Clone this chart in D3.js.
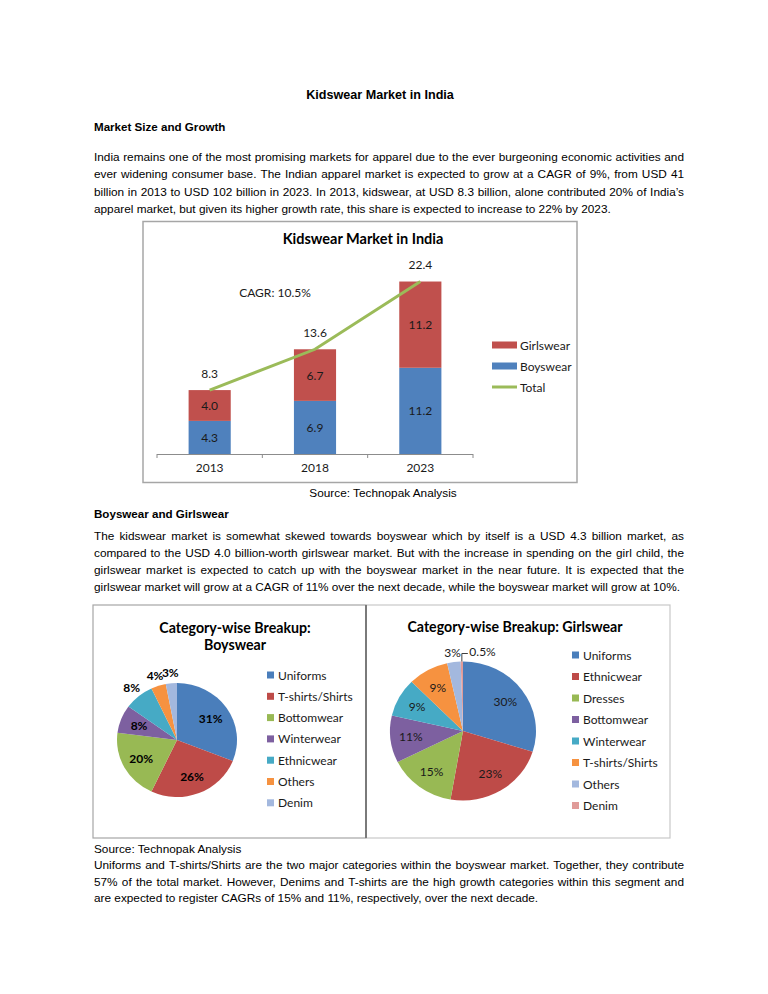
<!DOCTYPE html>
<html>
<head>
<meta charset="utf-8">
<script src="https://cdn.jsdelivr.net/npm/d3@7"></script>
<style>
  html, body { margin: 0; padding: 0; background: #fff; }
  svg { display: block; }
</style>
</head>
<body>
<script>
// ---------------- DATA ----------------
const years = ["2013", "2018", "2023"];
const boyswear = [4.3, 6.9, 11.2];
const girlswear = [4.0, 6.7, 11.2];
const totals = [8.3, 13.6, 22.4];
const cagrLabel = "CAGR: 10.5%";

const boysCategories = ["Uniforms", "T-shirts/Shirts", "Bottomwear", "Winterwear", "Ethnicwear", "Others", "Denim"];
const boysShares = [31, 26, 20, 8, 8, 4, 3];

const girlsCategories = ["Uniforms", "Ethnicwear", "Dresses", "Bottomwear", "Winterwear", "T-shirts/Shirts", "Others", "Denim"];
const girlsShares = [30, 23, 15, 11, 9, 9, 3, 0.5];

const docTitle = "Kidswear Market in India";
const para1Head = "Market Size and Growth";
const para1 = [
  "India remains one of the most promising markets for apparel due to the ever burgeoning economic activities and",
  "ever widening consumer base. The Indian apparel market is expected to grow at a CAGR of 9%, from USD 41",
  "billion in 2013 to USD 102 billion in 2023. In 2013, kidswear, at USD 8.3 billion, alone contributed 20% of India\u2019s",
  "apparel market, but given its higher growth rate, this share is expected to increase to 22% by 2023."
];
const para2Head = "Boyswear and Girlswear";
const para2 = [
  "The kidswear market is somewhat skewed towards boyswear which by itself is a USD 4.3 billion market, as",
  "compared to the USD 4.0 billion-worth girlswear market. But with the increase in spending on the girl child, the",
  "girlswear market is expected to catch up with the boyswear market in the near future. It is expected that the",
  "girlswear market will grow at a CAGR of 11% over the next decade, while the boyswear market will grow at 10%."
];
const para3 = [
  "Uniforms and T-shirts/Shirts are the two major categories within the boyswear market. Together, they contribute",
  "57% of the total market. However, Denims and T-shirts are the high growth categories within this segment and",
  "are expected to register CAGRs of 15% and 11%, respectively, over the next decade."
];
const sourceText = "Source: Technopak Analysis";

// ---------------- STYLE ----------------
const W = 768, H = 994;
const docFont = "'Liberation Sans', Arial, sans-serif";
const chartFont = "Lato, 'Open Sans', sans-serif";
const cBoys = "#4f81bd", cGirls = "#c0504d", cTotal = "#9bbb59";
const pieColors = ["#4a7ebb", "#be4b48", "#98b954", "#7d60a0", "#46aac5", "#f69240", "#a3b8de", "#e09b99"];
const bodySize = 11.8;

const svg = d3.select("body").append("svg").attr("width", W).attr("height", H);

// ---------------- DOCUMENT TEXT ----------------
const doc = svg.append("g").attr("font-family", docFont).attr("fill", "#000");
const textX = 94, textW = 590;

function writeLine(g, text, x, y, width, justify, size) {
  const t = g.append("text").attr("y", y).attr("font-size", size).attr("dominant-baseline", "central");
  if (!justify) { t.attr("x", x).text(text); return; }
  const words = text.split(" ");
  const spans = words.map(w => t.append("tspan").text(w));
  const widths = spans.map(s => s.node().getComputedTextLength());
  const gap = (width - d3.sum(widths)) / (words.length - 1);
  let cx = x;
  spans.forEach((s, i) => { s.attr("x", cx); cx += widths[i] + gap; });
}
function writePara(lines, y0, dy) {
  lines.forEach((l, i) => writeLine(doc, l, textX, y0 + i * dy, textW, i < lines.length - 1, bodySize));
}

doc.append("text").attr("x", 380).attr("y", 95).attr("text-anchor", "middle")
  .attr("dominant-baseline", "central").attr("font-size", 12.6).attr("font-weight", "bold").text(docTitle);
doc.append("text").attr("x", textX).attr("y", 126).attr("dominant-baseline", "central")
  .attr("font-size", 11.6).attr("font-weight", "bold").text(para1Head);
writePara(para1, 157, 17.4);

doc.append("text").attr("x", 383).attr("y", 493).attr("text-anchor", "middle")
  .attr("dominant-baseline", "central").attr("font-size", bodySize).text(sourceText);

doc.append("text").attr("x", textX).attr("y", 513).attr("dominant-baseline", "central")
  .attr("font-size", 11.6).attr("font-weight", "bold").text(para2Head);
writePara(para2, 536, 16.9);

doc.append("text").attr("x", textX).attr("y", 849).attr("dominant-baseline", "central")
  .attr("font-size", bodySize).text(sourceText);
writePara(para3, 865, 16.7);

// ---------------- BAR CHART ----------------
const bar = svg.append("g").attr("font-family", chartFont);
bar.append("rect").attr("x", 143).attr("y", 221.5).attr("width", 434).attr("height", 261)
  .attr("fill", "#fff").attr("stroke", "#a6a6a6").attr("stroke-width", 1.5);
bar.append("text").attr("x", 363).attr("y", 238).attr("text-anchor", "middle")
  .attr("dominant-baseline", "central").attr("font-size", 14.5).attr("font-weight", "bold")
  .attr("fill", "#000").text(docTitle);

const x = d3.scaleBand().domain(years).range([157, 473]).paddingInner(0.6).paddingOuter(0.3);
const y = d3.scaleLinear().domain([0, 25]).range([454, 261.5]);

const stackData = years.map((yr, i) => ({ year: yr, Boyswear: boyswear[i], Girlswear: girlswear[i] }));
const series = d3.stack().keys(["Boyswear", "Girlswear"])(stackData);
const colorOf = { Boyswear: cBoys, Girlswear: cGirls };

series.forEach(s => {
  const g = bar.append("g");
  g.selectAll("rect").data(s).join("rect")
    .attr("x", d => x(d.data.year)).attr("width", x.bandwidth())
    .attr("y", d => y(d[1])).attr("height", d => y(d[0]) - y(d[1]))
    .attr("fill", colorOf[s.key]);
  g.selectAll("text").data(s).join("text")
    .attr("x", d => x(d.data.year) + x.bandwidth() / 2)
    .attr("y", d => (y(d[0]) + y(d[1])) / 2)
    .attr("text-anchor", "middle").attr("dominant-baseline", "central")
    .attr("font-size", 12).attr("fill", "#1a1a1a")
    .text(d => (d[1] - d[0]).toFixed(1));
});

// x axis
const axisG = bar.append("g").attr("transform", "translate(0,454)");
const xAxis = d3.axisBottom(x).tickSize(0).tickPadding(9);
axisG.call(xAxis);
axisG.select(".domain").attr("stroke", "#8c8c8c").attr("d", "M157,0.5H473");
axisG.selectAll(".tick text").attr("font-family", chartFont).attr("font-size", 12).attr("fill", "#1a1a1a");
const bounds = [157].concat(years.map(yr => x(yr) + x.bandwidth() + x.step() * x.paddingInner() / 2));
bounds[bounds.length - 1] = 473;
axisG.selectAll(".bnd").data(bounds).join("line").attr("class", "bnd")
  .attr("x1", d => d).attr("x2", d => d).attr("y1", 0).attr("y2", 4)
  .attr("stroke", "#8c8c8c");

// total line
const line = d3.line().x((d, i) => x(years[i]) + x.bandwidth() / 2).y(d => y(d));
bar.append("path").datum(totals).attr("d", line).attr("fill", "none")
  .attr("stroke", cTotal).attr("stroke-width", 3);
bar.selectAll(".tot").data(totals).join("text").attr("class", "tot")
  .attr("x", (d, i) => x(years[i]) + x.bandwidth() / 2)
  .attr("y", d => y(d) - 17)
  .attr("text-anchor", "middle").attr("dominant-baseline", "central")
  .attr("font-size", 12).attr("fill", "#1a1a1a").text(d => d.toFixed(1));

bar.append("text").attr("x", 275).attr("y", 292).attr("text-anchor", "middle")
  .attr("dominant-baseline", "central").attr("font-size", 12).attr("fill", "#1a1a1a").text(cagrLabel);

// legend
const legItems = [{ k: "Girlswear", t: "rect", c: cGirls }, { k: "Boyswear", t: "rect", c: cBoys }, { k: "Total", t: "line", c: cTotal }];
legItems.forEach((it, i) => {
  const ly = 345 + i * 21;
  if (it.t === "rect") bar.append("rect").attr("x", 492).attr("y", ly - 3.5).attr("width", 25).attr("height", 7).attr("fill", it.c);
  else bar.append("line").attr("x1", 492).attr("x2", 517).attr("y1", ly).attr("y2", ly).attr("stroke", it.c).attr("stroke-width", 3);
  bar.append("text").attr("x", 520).attr("y", ly).attr("dominant-baseline", "central")
    .attr("font-size", 12).attr("fill", "#1a1a1a").text(it.k);
});

// ---------------- PIE CHARTS ----------------
const pies = svg.append("g").attr("font-family", chartFont);
pies.append("rect").attr("x", 93).attr("y", 605).attr("width", 273).attr("height", 233)
  .attr("fill", "#fff").attr("stroke", "#a6a6a6").attr("stroke-width", 1.2);
pies.append("rect").attr("x", 366).attr("y", 605).attr("width", 304).attr("height", 233)
  .attr("fill", "#fff").attr("stroke", "#c8c8c8").attr("stroke-width", 1.2);
pies.append("line").attr("x1", 366).attr("x2", 366).attr("y1", 605).attr("y2", 838)
  .attr("stroke", "#7a7a7a").attr("stroke-width", 2);

function drawPie(opts) {
  const { cats, vals, cx, cy, rx, ry, inside, inR, bold, legX, legY0, legDy } = opts;
  const g = pies.append("g");
  const arcs = d3.pie().sort(null).value(d => d)(vals);
  const arc = d3.arc().innerRadius(0).outerRadius(rx);
  g.append("g").attr("transform", `translate(${cx},${cy}) scale(1,${ry / rx})`)
    .selectAll("path").data(arcs).join("path")
    .attr("d", arc).attr("fill", (d, i) => pieColors[i]);
  const mid = d => (d.startAngle + d.endAngle) / 2;
  arcs.forEach((d, i) => {
    const a = mid(d);
    let px, py;
    if (i < inside) {
      px = cx + rx * inR * Math.sin(a); py = cy - ry * inR * Math.cos(a);
    } else {
      px = cx + (rx + opts.outK) * Math.sin(a); py = cy - (ry + opts.outK) * Math.cos(a);
    }
    if (opts.leader && i === vals.length - 1) {
      const ox = cx + rx * Math.sin(a), oy = cy - ry * Math.cos(a);
      g.append("polyline").attr("points", `${ox},${oy} ${ox},${oy - 8} ${ox + 6},${oy - 8}`)
        .attr("fill", "none").attr("stroke", "#404040").attr("stroke-width", 1);
      g.append("text").attr("x", ox + 7.5).attr("y", oy - 10).attr("dominant-baseline", "central")
        .attr("font-size", 12).attr("fill", "#1a1a1a").text(vals[i] + "%");
      return;
    }
    g.append("text").attr("x", px).attr("y", py).attr("text-anchor", "middle")
      .attr("dominant-baseline", "central").attr("font-size", 12)
      .attr("font-weight", bold ? "bold" : "normal").attr("fill", bold ? "#000" : "#1a1a1a")
      .text(vals[i] + "%");
  });
  cats.forEach((c, i) => {
    const ly = legY0 + i * legDy;
    g.append("rect").attr("x", legX).attr("y", ly - 3.5).attr("width", 7).attr("height", 7).attr("fill", pieColors[i]);
    g.append("text").attr("x", legX + 11).attr("y", ly).attr("dominant-baseline", "central")
      .attr("font-size", 12).attr("fill", "#1a1a1a").text(c);
  });
}

// Boyswear
pies.append("text").attr("x", 235).attr("y", 627).attr("text-anchor", "middle").attr("dominant-baseline", "central")
  .attr("font-size", 14.2).attr("font-weight", "bold").attr("fill", "#000").text("Category-wise Breakup:");
pies.append("text").attr("x", 235).attr("y", 644).attr("text-anchor", "middle").attr("dominant-baseline", "central")
  .attr("font-size", 14.2).attr("font-weight", "bold").attr("fill", "#000").text("Boyswear");
drawPie({ cats: boysCategories, vals: boysShares, cx: 177, cy: 740, rx: 60, ry: 57, inside: 4, inR: 0.68,
  outK: 11, bold: true, legX: 267, legY0: 675, legDy: 21.3 });

// Girlswear
pies.append("text").attr("x", 515).attr("y", 626).attr("text-anchor", "middle").attr("dominant-baseline", "central")
  .attr("font-size", 14.2).attr("font-weight", "bold").attr("fill", "#000").text("Category-wise Breakup: Girlswear");
drawPie({ cats: girlsCategories, vals: girlsShares, cx: 463, cy: 731, rx: 73, ry: 69.5, inside: 6, inR: 0.72,
  outK: 10, bold: false, leader: true, legX: 572, legY0: 655, legDy: 21.5 });
</script>
</body>
</html>
